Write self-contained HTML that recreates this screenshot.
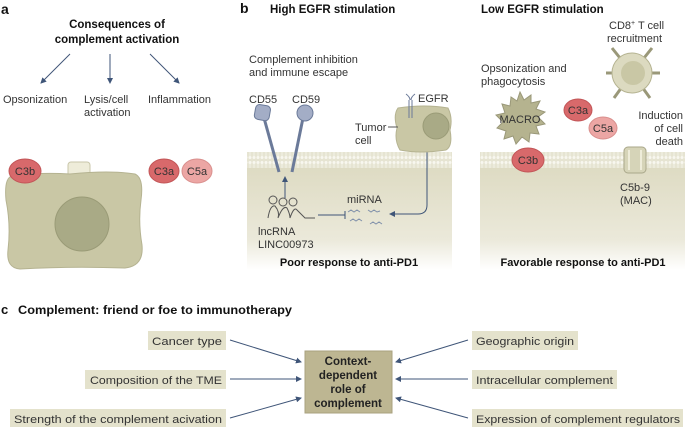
<!DOCTYPE html>
<html><head><meta charset="utf-8"><style>
html,body{margin:0;padding:0;background:#fff;}
svg{display:block;font-family:"Liberation Sans",Arial,sans-serif;}
.t{font-size:11px;fill:#333;}
.b{font-weight:bold;fill:#111;}
</style></head><body>
<svg width="685" height="427" viewBox="0 0 685 427" xmlns="http://www.w3.org/2000/svg">
<defs>
<marker id="ah" markerWidth="6" markerHeight="6" refX="5" refY="3" orient="auto"><path d="M0,0 L6,3 L0,6 Z" fill="#3f5578"/></marker>
<linearGradient id="cyto" x1="0" y1="0" x2="0" y2="1"><stop offset="0" stop-color="#dedbc3"/><stop offset="0.7" stop-color="#ebe9da"/><stop offset="1" stop-color="#fff"/></linearGradient>
<pattern id="mem" width="4" height="16" patternUnits="userSpaceOnUse"><rect width="4" height="16" fill="#e6e4d2"/><circle cx="2" cy="2.5" r="1.5" fill="#f8f7ef"/><circle cx="2" cy="13.5" r="1.5" fill="#f8f7ef"/><line x1="2" y1="4" x2="2" y2="12" stroke="#f3f2e6" stroke-width="1"/></pattern>
</defs>

<!-- Panel a -->
<text x="1" y="14" class="b" font-size="14">a</text>
<text x="117" y="28" class="b" font-size="11.5" text-anchor="middle">Consequences of</text>
<text x="117" y="43" class="b" font-size="11.5" text-anchor="middle">complement activation</text>
<g stroke="#3f5578" stroke-width="1" marker-end="url(#ah)">
<line x1="70" y1="54" x2="41" y2="83"/><line x1="110" y1="54" x2="110" y2="83"/><line x1="150" y1="54" x2="179" y2="83"/>
</g>
<text x="3" y="103" class="t">Opsonization</text>
<text x="84" y="103" class="t">Lysis/cell</text>
<text x="84" y="116" class="t">activation</text>
<text x="148" y="103" class="t">Inflammation</text>
<rect x="68" y="162" width="22" height="25" rx="3" fill="#eeecd9" stroke="#c8c6a9"/>
<path d="M12,176 Q40,172 70,174 Q110,170 135,174 Q144,178 141,200 Q138,222 142,245 Q144,266 125,268 Q70,266 20,269 Q6,268 8,250 Q11,225 6,200 Q4,178 12,176 Z" fill="#c9c7a5" stroke="#b5b391"/>
<circle cx="82" cy="224" r="27" fill="#a9aa86" stroke="#9a9b77"/>
<ellipse cx="25" cy="171" rx="16" ry="12" fill="#d8696b" stroke="#c25557"/>
<text x="25" y="175" class="t" text-anchor="middle">C3b</text>
<ellipse cx="164" cy="171" rx="15" ry="12" fill="#d8696b" stroke="#c25557"/>
<text x="164" y="175" class="t" text-anchor="middle">C3a</text>
<ellipse cx="197" cy="171" rx="15" ry="12" fill="#eca6a4" stroke="#d98f8d"/>
<text x="197" y="175" class="t" text-anchor="middle">C5a</text>

<!-- Panel b -->
<text x="240" y="13" class="b" font-size="14">b</text>
<text x="270" y="13" class="b" font-size="11.5">High EGFR stimulation</text>
<text x="481" y="13" class="b" font-size="11.5">Low EGFR stimulation</text>

<rect x="247" y="168" width="205" height="102" fill="url(#cyto)"/>
<rect x="247" y="152" width="205" height="16" fill="url(#mem)"/>
<rect x="480" y="168" width="205" height="102" fill="url(#cyto)"/>
<rect x="480" y="152" width="205" height="16" fill="url(#mem)"/>

<text x="249" y="63" class="t">Complement inhibition</text>
<text x="249" y="76" class="t">and immune escape</text>
<text x="249" y="103" class="t">CD55</text>
<text x="292" y="103" class="t">CD59</text>
<line x1="264" y1="118" x2="279" y2="172" stroke="#6b7a99" stroke-width="3"/>
<line x1="303" y1="118" x2="292" y2="172" stroke="#6b7a99" stroke-width="3"/>
<rect x="255" y="105" width="15" height="15" rx="4" transform="rotate(10 262 112)" fill="#a3adc6" stroke="#6b7a99"/>
<circle cx="305" cy="113" r="8" fill="#a3adc6" stroke="#6b7a99"/>
<line x1="285" y1="198" x2="285" y2="177" stroke="#3f5578" marker-end="url(#ah)"/>
<g fill="none" stroke="#555" stroke-width="1">
<circle cx="273" cy="200" r="4"/><circle cx="283" cy="202" r="4"/><circle cx="293" cy="202" r="4"/>
<path d="M268,218 Q270,205 275,206 Q280,212 278,218 Q283,205 287,208 Q290,214 290,218 Q294,206 297,210 L305,218 L315,218"/>
</g>
<line x1="318" y1="215" x2="345" y2="215" stroke="#3f5578"/>
<line x1="345" y1="211" x2="345" y2="219" stroke="#3f5578"/>
<text x="347" y="203" class="t">miRNA</text>
<g stroke="#8090aa" fill="none" stroke-width="1">
<path d="M348,212 l3,-2 l3,2 l3,-2 l3,2"/><path d="M368,210 l3,2 l3,-2 l3,2 l3,-1"/>
<path d="M350,221 l3,-2 l3,2 l3,-2 l3,2"/><path d="M370,224 l3,-2 l3,2 l3,-2 l3,2"/>
</g>
<text x="258" y="235" class="t">lncRNA</text>
<text x="258" y="248" class="t">LINC00973</text>
<path d="M427,150 L427,205 Q427,214 418,214 L390,214" fill="none" stroke="#3f5578" marker-end="url(#ah)"/>
<path d="M398,108 Q425,104 448,108 Q453,118 450,130 Q453,146 446,150 Q420,154 400,150 Q394,140 397,128 Q393,115 398,108 Z" fill="#c9c7a5" stroke="#b5b391"/>
<circle cx="436" cy="126" r="13" fill="#a9aa86" stroke="#9a9b77"/>
<line x1="409" y1="100" x2="409" y2="118" stroke="#6b7a99" stroke-width="1"/><line x1="412" y1="100" x2="412" y2="118" stroke="#6b7a99" stroke-width="1"/>
<path d="M406,94 q4,3 4,6 M415,94 q-4,3 -4,6" stroke="#6b7a99" fill="none"/>
<text x="418" y="102" class="t">EGFR</text>
<text x="355" y="131" class="t">Tumor</text><line x1="388" y1="127" x2="398" y2="127" stroke="#555"/>
<text x="355" y="144" class="t">cell</text>
<text x="349" y="266" class="b" font-size="11" text-anchor="middle">Poor response to anti-PD1</text>

<text x="609" y="29" class="t">CD8<tspan font-size="7" dy="-4">+</tspan><tspan dy="4"> T cell</tspan></text>
<text x="607" y="42" class="t">recruitment</text>
<g stroke="#9a9879" stroke-width="3">
<line x1="632" y1="73" x2="612" y2="48"/><line x1="632" y1="73" x2="652" y2="48"/>
<line x1="632" y1="73" x2="606" y2="73"/><line x1="632" y1="73" x2="660" y2="73"/>
<line x1="632" y1="73" x2="614" y2="98"/><line x1="632" y1="73" x2="650" y2="98"/>
</g>
<circle cx="632" cy="73" r="20" fill="#dcdac0" stroke="#b5b391"/>
<circle cx="633" cy="73" r="12" fill="#c9c7a5"/>
<text x="481" y="72" class="t">Opsonization and</text>
<text x="481" y="85" class="t">phagocytosis</text>
<polygon points="520,92 524,100 531,95 531,103 540,101 536,109 545,112 538,117 545,124 536,126 539,134 530,133 529,142 522,137 516,144 513,136 504,139 506,131 497,128 503,122 496,115 505,113 502,104 510,106 511,97 517,101" fill="#b5b38f" stroke="#9a9879"/>
<text x="520" y="123" class="t" text-anchor="middle" font-size="10.5">MACRO</text>
<ellipse cx="528" cy="160" rx="16" ry="12" fill="#d8696b" stroke="#c25557"/>
<text x="528" y="164" class="t" text-anchor="middle">C3b</text>
<ellipse cx="578" cy="110" rx="14" ry="11" fill="#d8696b" stroke="#c25557"/>
<text x="578" y="114" class="t" text-anchor="middle">C3a</text>
<ellipse cx="603" cy="128" rx="14" ry="11" fill="#eca6a4" stroke="#d98f8d"/>
<text x="603" y="132" class="t" text-anchor="middle">C5a</text>
<text x="683" y="119" class="t" text-anchor="end">Induction</text>
<text x="683" y="132" class="t" text-anchor="end">of cell</text>
<text x="683" y="145" class="t" text-anchor="end">death</text>
<rect x="624" y="147" width="22" height="26" rx="4" fill="#d6d4b8" stroke="#a9a78a"/>
<line x1="629" y1="150" x2="629" y2="170" stroke="#eeecd9" stroke-width="2"/><line x1="641" y1="150" x2="641" y2="170" stroke="#eeecd9" stroke-width="2"/>
<text x="620" y="191" class="t">C5b-9</text>
<text x="620" y="204" class="t">(MAC)</text>
<text x="583" y="266" class="b" font-size="11" text-anchor="middle">Favorable response to anti-PD1</text>

<!-- Panel c -->
<text x="1" y="314" class="b" font-size="13">c</text>
<text x="18" y="314" class="b" font-size="11.5" textLength="274" lengthAdjust="spacingAndGlyphs">Complement: friend or foe to immunotherapy</text>
<g fill="#e4e2cc">
<rect x="148" y="331" width="78" height="19"/>
<rect x="85" y="370" width="141" height="19"/>
<rect x="10" y="409" width="216" height="18"/>
<rect x="472" y="331" width="106" height="19"/>
<rect x="472" y="370" width="145" height="19"/>
<rect x="472" y="409" width="211" height="18"/>
</g>
<rect x="305" y="351" width="87" height="62" fill="#bdb692" stroke="#a9a27f"/>
<g font-size="11" fill="#333">
<text x="152" y="345" textLength="70" lengthAdjust="spacingAndGlyphs">Cancer type</text>
<text x="90" y="384" textLength="132" lengthAdjust="spacingAndGlyphs">Composition of the TME</text>
<text x="14" y="423" textLength="208" lengthAdjust="spacingAndGlyphs">Strength of the complement acivation</text>
<text x="476" y="345" textLength="98" lengthAdjust="spacingAndGlyphs">Geographic origin</text>
<text x="476" y="384" textLength="137" lengthAdjust="spacingAndGlyphs">Intracellular complement</text>
<text x="476" y="423" textLength="204" lengthAdjust="spacingAndGlyphs">Expression of complement regulators</text>
</g>
<g font-size="11.5" font-weight="bold" fill="#222" text-anchor="middle">
<text x="348" y="365">Context-</text><text x="348" y="379">dependent</text><text x="348" y="393">role of</text><text x="348" y="407">complement</text>
</g>
<g stroke="#3f5578" stroke-width="1" marker-end="url(#ah)">
<line x1="230" y1="340" x2="301" y2="362"/><line x1="230" y1="379" x2="301" y2="379"/><line x1="230" y1="418" x2="301" y2="398"/>
<line x1="468" y1="340" x2="396" y2="362"/><line x1="468" y1="379" x2="396" y2="379"/><line x1="468" y1="418" x2="396" y2="398"/>
</g>
</svg>
</body></html>
